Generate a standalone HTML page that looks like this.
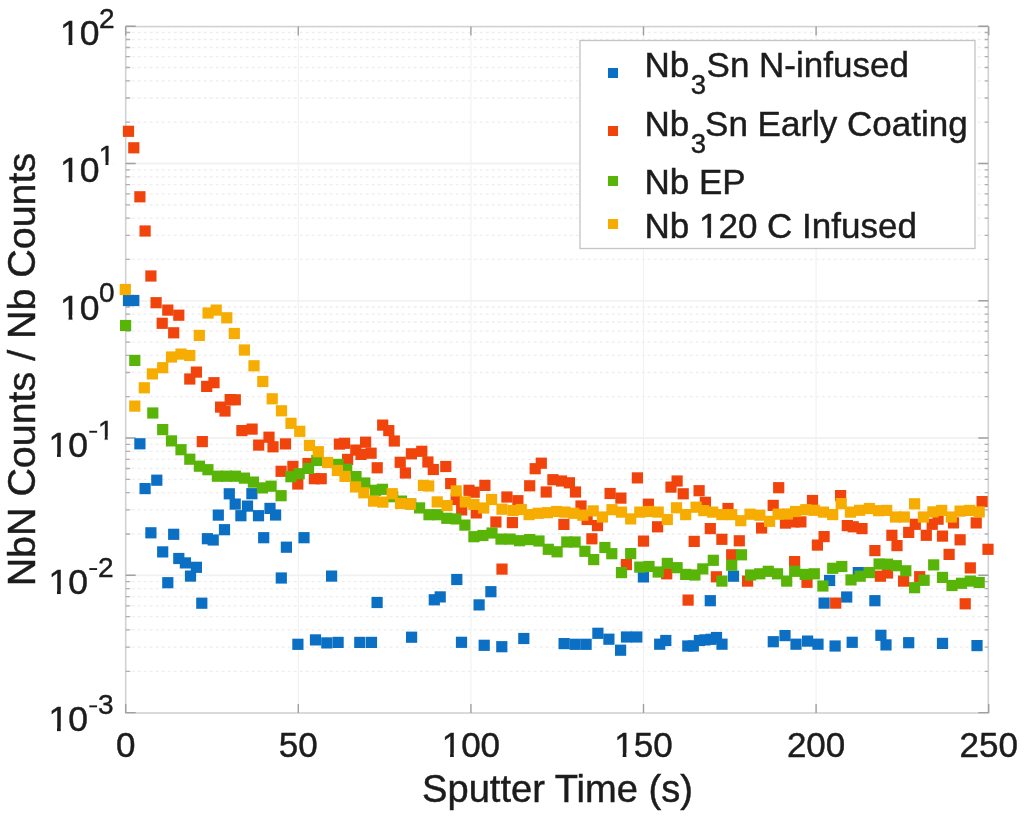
<!DOCTYPE html><html><head><meta charset="utf-8"><style>html,body{margin:0;padding:0;background:#fff;width:1025px;height:818px;overflow:hidden}svg{display:block;font-family:"Liberation Sans",sans-serif;will-change:transform}text{stroke:#1c1c1c;stroke-width:0.45px}</style></head><body>
<svg width="1025" height="818" viewBox="0 0 1025 818">
<rect width="1025" height="818" fill="#fff"/>
<line x1="125.7" y1="671.3" x2="988.3" y2="671.3" stroke="#eeeeee" stroke-width="1.3" stroke-dasharray="3 3"/>
<line x1="125.7" y1="647.1" x2="988.3" y2="647.1" stroke="#eeeeee" stroke-width="1.3" stroke-dasharray="3 3"/>
<line x1="125.7" y1="629.9" x2="988.3" y2="629.9" stroke="#eeeeee" stroke-width="1.3" stroke-dasharray="3 3"/>
<line x1="125.7" y1="616.6" x2="988.3" y2="616.6" stroke="#eeeeee" stroke-width="1.3" stroke-dasharray="3 3"/>
<line x1="125.7" y1="605.8" x2="988.3" y2="605.8" stroke="#eeeeee" stroke-width="1.3" stroke-dasharray="3 3"/>
<line x1="125.7" y1="596.6" x2="988.3" y2="596.6" stroke="#eeeeee" stroke-width="1.3" stroke-dasharray="3 3"/>
<line x1="125.7" y1="588.6" x2="988.3" y2="588.6" stroke="#eeeeee" stroke-width="1.3" stroke-dasharray="3 3"/>
<line x1="125.7" y1="581.6" x2="988.3" y2="581.6" stroke="#eeeeee" stroke-width="1.3" stroke-dasharray="3 3"/>
<line x1="125.7" y1="534.0" x2="988.3" y2="534.0" stroke="#eeeeee" stroke-width="1.3" stroke-dasharray="3 3"/>
<line x1="125.7" y1="509.8" x2="988.3" y2="509.8" stroke="#eeeeee" stroke-width="1.3" stroke-dasharray="3 3"/>
<line x1="125.7" y1="492.7" x2="988.3" y2="492.7" stroke="#eeeeee" stroke-width="1.3" stroke-dasharray="3 3"/>
<line x1="125.7" y1="479.4" x2="988.3" y2="479.4" stroke="#eeeeee" stroke-width="1.3" stroke-dasharray="3 3"/>
<line x1="125.7" y1="468.5" x2="988.3" y2="468.5" stroke="#eeeeee" stroke-width="1.3" stroke-dasharray="3 3"/>
<line x1="125.7" y1="459.3" x2="988.3" y2="459.3" stroke="#eeeeee" stroke-width="1.3" stroke-dasharray="3 3"/>
<line x1="125.7" y1="451.3" x2="988.3" y2="451.3" stroke="#eeeeee" stroke-width="1.3" stroke-dasharray="3 3"/>
<line x1="125.7" y1="444.3" x2="988.3" y2="444.3" stroke="#eeeeee" stroke-width="1.3" stroke-dasharray="3 3"/>
<line x1="125.7" y1="396.7" x2="988.3" y2="396.7" stroke="#eeeeee" stroke-width="1.3" stroke-dasharray="3 3"/>
<line x1="125.7" y1="372.5" x2="988.3" y2="372.5" stroke="#eeeeee" stroke-width="1.3" stroke-dasharray="3 3"/>
<line x1="125.7" y1="355.4" x2="988.3" y2="355.4" stroke="#eeeeee" stroke-width="1.3" stroke-dasharray="3 3"/>
<line x1="125.7" y1="342.1" x2="988.3" y2="342.1" stroke="#eeeeee" stroke-width="1.3" stroke-dasharray="3 3"/>
<line x1="125.7" y1="331.2" x2="988.3" y2="331.2" stroke="#eeeeee" stroke-width="1.3" stroke-dasharray="3 3"/>
<line x1="125.7" y1="322.0" x2="988.3" y2="322.0" stroke="#eeeeee" stroke-width="1.3" stroke-dasharray="3 3"/>
<line x1="125.7" y1="314.1" x2="988.3" y2="314.1" stroke="#eeeeee" stroke-width="1.3" stroke-dasharray="3 3"/>
<line x1="125.7" y1="307.0" x2="988.3" y2="307.0" stroke="#eeeeee" stroke-width="1.3" stroke-dasharray="3 3"/>
<line x1="125.7" y1="259.4" x2="988.3" y2="259.4" stroke="#eeeeee" stroke-width="1.3" stroke-dasharray="3 3"/>
<line x1="125.7" y1="235.3" x2="988.3" y2="235.3" stroke="#eeeeee" stroke-width="1.3" stroke-dasharray="3 3"/>
<line x1="125.7" y1="218.1" x2="988.3" y2="218.1" stroke="#eeeeee" stroke-width="1.3" stroke-dasharray="3 3"/>
<line x1="125.7" y1="204.8" x2="988.3" y2="204.8" stroke="#eeeeee" stroke-width="1.3" stroke-dasharray="3 3"/>
<line x1="125.7" y1="193.9" x2="988.3" y2="193.9" stroke="#eeeeee" stroke-width="1.3" stroke-dasharray="3 3"/>
<line x1="125.7" y1="184.7" x2="988.3" y2="184.7" stroke="#eeeeee" stroke-width="1.3" stroke-dasharray="3 3"/>
<line x1="125.7" y1="176.8" x2="988.3" y2="176.8" stroke="#eeeeee" stroke-width="1.3" stroke-dasharray="3 3"/>
<line x1="125.7" y1="169.8" x2="988.3" y2="169.8" stroke="#eeeeee" stroke-width="1.3" stroke-dasharray="3 3"/>
<line x1="125.7" y1="122.1" x2="988.3" y2="122.1" stroke="#eeeeee" stroke-width="1.3" stroke-dasharray="3 3"/>
<line x1="125.7" y1="98.0" x2="988.3" y2="98.0" stroke="#eeeeee" stroke-width="1.3" stroke-dasharray="3 3"/>
<line x1="125.7" y1="80.8" x2="988.3" y2="80.8" stroke="#eeeeee" stroke-width="1.3" stroke-dasharray="3 3"/>
<line x1="125.7" y1="67.5" x2="988.3" y2="67.5" stroke="#eeeeee" stroke-width="1.3" stroke-dasharray="3 3"/>
<line x1="125.7" y1="56.6" x2="988.3" y2="56.6" stroke="#eeeeee" stroke-width="1.3" stroke-dasharray="3 3"/>
<line x1="125.7" y1="47.5" x2="988.3" y2="47.5" stroke="#eeeeee" stroke-width="1.3" stroke-dasharray="3 3"/>
<line x1="125.7" y1="39.5" x2="988.3" y2="39.5" stroke="#eeeeee" stroke-width="1.3" stroke-dasharray="3 3"/>
<line x1="125.7" y1="32.5" x2="988.3" y2="32.5" stroke="#eeeeee" stroke-width="1.3" stroke-dasharray="3 3"/>
<line x1="125.7" y1="575.3" x2="988.3" y2="575.3" stroke="#f2f2f2" stroke-width="1.8"/>
<line x1="125.7" y1="438.0" x2="988.3" y2="438.0" stroke="#f2f2f2" stroke-width="1.8"/>
<line x1="125.7" y1="300.8" x2="988.3" y2="300.8" stroke="#f2f2f2" stroke-width="1.8"/>
<line x1="125.7" y1="163.5" x2="988.3" y2="163.5" stroke="#f2f2f2" stroke-width="1.8"/>
<line x1="298.3" y1="26.6" x2="298.3" y2="713.0" stroke="#f2f2f2" stroke-width="1.2"/>
<line x1="470.9" y1="26.6" x2="470.9" y2="713.0" stroke="#f2f2f2" stroke-width="1.2"/>
<line x1="643.5" y1="26.6" x2="643.5" y2="713.0" stroke="#f2f2f2" stroke-width="1.2"/>
<line x1="816.1" y1="26.6" x2="816.1" y2="713.0" stroke="#f2f2f2" stroke-width="1.2"/>
<rect x="125.7" y="26.6" width="862.6" height="686.4" fill="none" stroke="#d0d1d4" stroke-width="1.6"/>
<path d="M125.7 713.0v-9M125.7 26.6v9M298.3 713.0v-9M298.3 26.6v9M470.9 713.0v-9M470.9 26.6v9M643.5 713.0v-9M643.5 26.6v9M816.1 713.0v-9M816.1 26.6v9M988.7 713.0v-9M988.7 26.6v9M125.7 712.6h10M988.3 712.6h-10M125.7 575.3h10M988.3 575.3h-10M125.7 438.0h10M988.3 438.0h-10M125.7 300.8h10M988.3 300.8h-10M125.7 163.5h10M988.3 163.5h-10M125.7 26.2h10M988.3 26.2h-10" stroke="#a0a0a0" stroke-width="1.4" fill="none"/>
<path d="M125.7 671.3h4.5M988.3 671.3h-3.5M125.7 647.1h4.5M988.3 647.1h-3.5M125.7 629.9h4.5M988.3 629.9h-3.5M125.7 616.6h4.5M988.3 616.6h-3.5M125.7 605.8h4.5M988.3 605.8h-3.5M125.7 596.6h4.5M988.3 596.6h-3.5M125.7 588.6h4.5M988.3 588.6h-3.5M125.7 581.6h4.5M988.3 581.6h-3.5M125.7 534.0h4.5M988.3 534.0h-3.5M125.7 509.8h4.5M988.3 509.8h-3.5M125.7 492.7h4.5M988.3 492.7h-3.5M125.7 479.4h4.5M988.3 479.4h-3.5M125.7 468.5h4.5M988.3 468.5h-3.5M125.7 459.3h4.5M988.3 459.3h-3.5M125.7 451.3h4.5M988.3 451.3h-3.5M125.7 444.3h4.5M988.3 444.3h-3.5M125.7 396.7h4.5M988.3 396.7h-3.5M125.7 372.5h4.5M988.3 372.5h-3.5M125.7 355.4h4.5M988.3 355.4h-3.5M125.7 342.1h4.5M988.3 342.1h-3.5M125.7 331.2h4.5M988.3 331.2h-3.5M125.7 322.0h4.5M988.3 322.0h-3.5M125.7 314.1h4.5M988.3 314.1h-3.5M125.7 307.0h4.5M988.3 307.0h-3.5M125.7 259.4h4.5M988.3 259.4h-3.5M125.7 235.3h4.5M988.3 235.3h-3.5M125.7 218.1h4.5M988.3 218.1h-3.5M125.7 204.8h4.5M988.3 204.8h-3.5M125.7 193.9h4.5M988.3 193.9h-3.5M125.7 184.7h4.5M988.3 184.7h-3.5M125.7 176.8h4.5M988.3 176.8h-3.5M125.7 169.8h4.5M988.3 169.8h-3.5M125.7 122.1h4.5M988.3 122.1h-3.5M125.7 98.0h4.5M988.3 98.0h-3.5M125.7 80.8h4.5M988.3 80.8h-3.5M125.7 67.5h4.5M988.3 67.5h-3.5M125.7 56.6h4.5M988.3 56.6h-3.5M125.7 47.5h4.5M988.3 47.5h-3.5M125.7 39.5h4.5M988.3 39.5h-3.5M125.7 32.5h4.5M988.3 32.5h-3.5" stroke="#b0b0b0" stroke-width="1.3" fill="none"/>
<g fill="#0b6fc4">
<rect x="122.9" y="294.9" width="11.2" height="11.2"/>
<rect x="128.2" y="294.9" width="11.2" height="11.2"/>
<rect x="134.3" y="438.2" width="11.2" height="11.2"/>
<rect x="139.5" y="483.0" width="11.2" height="11.2"/>
<rect x="145.3" y="527.2" width="11.2" height="11.2"/>
<rect x="151.2" y="474.6" width="11.2" height="11.2"/>
<rect x="157.1" y="546.3" width="11.2" height="11.2"/>
<rect x="162.2" y="577.1" width="11.2" height="11.2"/>
<rect x="168.1" y="528.7" width="11.2" height="11.2"/>
<rect x="173.2" y="552.9" width="11.2" height="11.2"/>
<rect x="179.8" y="557.3" width="11.2" height="11.2"/>
<rect x="184.9" y="570.5" width="11.2" height="11.2"/>
<rect x="190.8" y="561.7" width="11.2" height="11.2"/>
<rect x="196.2" y="597.6" width="11.2" height="11.2"/>
<rect x="201.8" y="533.1" width="11.2" height="11.2"/>
<rect x="207.6" y="534.4" width="11.2" height="11.2"/>
<rect x="212.7" y="509.5" width="11.2" height="11.2"/>
<rect x="218.9" y="524.1" width="11.2" height="11.2"/>
<rect x="223.7" y="488.2" width="11.2" height="11.2"/>
<rect x="229.6" y="498.5" width="11.2" height="11.2"/>
<rect x="235.3" y="510.1" width="11.2" height="11.2"/>
<rect x="241.9" y="500.5" width="11.2" height="11.2"/>
<rect x="246.3" y="488.1" width="11.2" height="11.2"/>
<rect x="252.9" y="510.1" width="11.2" height="11.2"/>
<rect x="258.1" y="532.1" width="11.2" height="11.2"/>
<rect x="264.4" y="502.8" width="11.2" height="11.2"/>
<rect x="270.0" y="509.4" width="11.2" height="11.2"/>
<rect x="275.7" y="572.4" width="11.2" height="11.2"/>
<rect x="280.8" y="541.6" width="11.2" height="11.2"/>
<rect x="292.3" y="638.7" width="11.2" height="11.2"/>
<rect x="298.4" y="532.1" width="11.2" height="11.2"/>
<rect x="309.9" y="634.3" width="11.2" height="11.2"/>
<rect x="321.2" y="637.3" width="11.2" height="11.2"/>
<rect x="326.0" y="570.5" width="11.2" height="11.2"/>
<rect x="332.5" y="636.8" width="11.2" height="11.2"/>
<rect x="354.2" y="636.8" width="11.2" height="11.2"/>
<rect x="365.9" y="636.8" width="11.2" height="11.2"/>
<rect x="371.5" y="596.9" width="11.2" height="11.2"/>
<rect x="406.0" y="631.6" width="11.2" height="11.2"/>
<rect x="428.7" y="594.2" width="11.2" height="11.2"/>
<rect x="434.6" y="591.3" width="11.2" height="11.2"/>
<rect x="451.2" y="573.9" width="11.2" height="11.2"/>
<rect x="455.9" y="636.7" width="11.2" height="11.2"/>
<rect x="473.5" y="599.3" width="11.2" height="11.2"/>
<rect x="478.6" y="639.7" width="11.2" height="11.2"/>
<rect x="485.3" y="586.1" width="11.2" height="11.2"/>
<rect x="496.2" y="641.1" width="11.2" height="11.2"/>
<rect x="518.2" y="632.9" width="11.2" height="11.2"/>
<rect x="558.5" y="638.0" width="11.2" height="11.2"/>
<rect x="569.5" y="638.7" width="11.2" height="11.2"/>
<rect x="580.5" y="638.7" width="11.2" height="11.2"/>
<rect x="592.3" y="627.7" width="11.2" height="11.2"/>
<rect x="603.3" y="633.6" width="11.2" height="11.2"/>
<rect x="615.0" y="644.6" width="11.2" height="11.2"/>
<rect x="620.9" y="631.4" width="11.2" height="11.2"/>
<rect x="631.2" y="631.4" width="11.2" height="11.2"/>
<rect x="637.8" y="571.3" width="11.2" height="11.2"/>
<rect x="654.1" y="638.6" width="11.2" height="11.2"/>
<rect x="660.2" y="634.9" width="11.2" height="11.2"/>
<rect x="682.2" y="640.4" width="11.2" height="11.2"/>
<rect x="687.7" y="640.4" width="11.2" height="11.2"/>
<rect x="693.8" y="634.9" width="11.2" height="11.2"/>
<rect x="699.3" y="634.3" width="11.2" height="11.2"/>
<rect x="704.7" y="595.1" width="11.2" height="11.2"/>
<rect x="705.4" y="633.7" width="11.2" height="11.2"/>
<rect x="710.9" y="631.9" width="11.2" height="11.2"/>
<rect x="716.4" y="638.6" width="11.2" height="11.2"/>
<rect x="727.9" y="570.6" width="11.2" height="11.2"/>
<rect x="767.7" y="636.1" width="11.2" height="11.2"/>
<rect x="779.4" y="630.0" width="11.2" height="11.2"/>
<rect x="790.4" y="638.6" width="11.2" height="11.2"/>
<rect x="802.0" y="635.5" width="11.2" height="11.2"/>
<rect x="812.4" y="638.6" width="11.2" height="11.2"/>
<rect x="818.5" y="597.5" width="11.2" height="11.2"/>
<rect x="824.0" y="574.9" width="11.2" height="11.2"/>
<rect x="829.5" y="640.4" width="11.2" height="11.2"/>
<rect x="841.1" y="591.4" width="11.2" height="11.2"/>
<rect x="846.6" y="636.7" width="11.2" height="11.2"/>
<rect x="852.7" y="567.0" width="11.2" height="11.2"/>
<rect x="869.3" y="595.1" width="11.2" height="11.2"/>
<rect x="875.3" y="629.7" width="11.2" height="11.2"/>
<rect x="880.4" y="639.3" width="11.2" height="11.2"/>
<rect x="903.1" y="637.1" width="11.2" height="11.2"/>
<rect x="936.9" y="637.8" width="11.2" height="11.2"/>
<rect x="971.4" y="640.0" width="11.2" height="11.2"/>
</g>
<g fill="#f0440c">
<rect x="122.9" y="125.7" width="11.2" height="11.2"/>
<rect x="128.2" y="142.2" width="11.2" height="11.2"/>
<rect x="134.3" y="191.2" width="11.2" height="11.2"/>
<rect x="139.5" y="225.4" width="11.2" height="11.2"/>
<rect x="145.3" y="270.4" width="11.2" height="11.2"/>
<rect x="150.5" y="297.1" width="11.2" height="11.2"/>
<rect x="156.6" y="317.7" width="11.2" height="11.2"/>
<rect x="162.2" y="304.5" width="11.2" height="11.2"/>
<rect x="168.1" y="327.2" width="11.2" height="11.2"/>
<rect x="173.2" y="309.6" width="11.2" height="11.2"/>
<rect x="184.2" y="373.4" width="11.2" height="11.2"/>
<rect x="190.8" y="366.5" width="11.2" height="11.2"/>
<rect x="196.7" y="436.0" width="11.2" height="11.2"/>
<rect x="201.1" y="380.8" width="11.2" height="11.2"/>
<rect x="208.4" y="377.1" width="11.2" height="11.2"/>
<rect x="215.0" y="401.5" width="11.2" height="11.2"/>
<rect x="219.4" y="405.4" width="11.2" height="11.2"/>
<rect x="224.6" y="394.0" width="11.2" height="11.2"/>
<rect x="229.7" y="394.2" width="11.2" height="11.2"/>
<rect x="236.3" y="425.0" width="11.2" height="11.2"/>
<rect x="246.5" y="423.5" width="11.2" height="11.2"/>
<rect x="253.1" y="439.5" width="11.2" height="11.2"/>
<rect x="263.4" y="431.6" width="11.2" height="11.2"/>
<rect x="267.4" y="441.2" width="11.2" height="11.2"/>
<rect x="275.5" y="465.7" width="11.2" height="11.2"/>
<rect x="279.9" y="438.3" width="11.2" height="11.2"/>
<rect x="287.3" y="460.8" width="11.2" height="11.2"/>
<rect x="292.2" y="478.4" width="11.2" height="11.2"/>
<rect x="302.4" y="457.9" width="11.2" height="11.2"/>
<rect x="308.8" y="473.1" width="11.2" height="11.2"/>
<rect x="315.6" y="473.1" width="11.2" height="11.2"/>
<rect x="333.8" y="438.5" width="11.2" height="11.2"/>
<rect x="339.0" y="437.7" width="11.2" height="11.2"/>
<rect x="342.0" y="453.8" width="11.2" height="11.2"/>
<rect x="350.2" y="444.5" width="11.2" height="11.2"/>
<rect x="355.4" y="448.8" width="11.2" height="11.2"/>
<rect x="360.0" y="436.6" width="11.2" height="11.2"/>
<rect x="365.5" y="447.6" width="11.2" height="11.2"/>
<rect x="371.6" y="462.2" width="11.2" height="11.2"/>
<rect x="377.1" y="419.5" width="11.2" height="11.2"/>
<rect x="383.2" y="425.0" width="11.2" height="11.2"/>
<rect x="388.7" y="435.4" width="11.2" height="11.2"/>
<rect x="394.6" y="456.7" width="11.2" height="11.2"/>
<rect x="399.8" y="467.4" width="11.2" height="11.2"/>
<rect x="405.8" y="448.2" width="11.2" height="11.2"/>
<rect x="416.2" y="445.7" width="11.2" height="11.2"/>
<rect x="422.3" y="456.4" width="11.2" height="11.2"/>
<rect x="427.7" y="463.9" width="11.2" height="11.2"/>
<rect x="440.2" y="460.9" width="11.2" height="11.2"/>
<rect x="445.1" y="478.0" width="11.2" height="11.2"/>
<rect x="450.6" y="493.9" width="11.2" height="11.2"/>
<rect x="456.1" y="504.3" width="11.2" height="11.2"/>
<rect x="463.4" y="484.7" width="11.2" height="11.2"/>
<rect x="468.6" y="486.6" width="11.2" height="11.2"/>
<rect x="470.7" y="507.3" width="11.2" height="11.2"/>
<rect x="479.3" y="479.8" width="11.2" height="11.2"/>
<rect x="490.3" y="516.4" width="11.2" height="11.2"/>
<rect x="496.4" y="563.5" width="11.2" height="11.2"/>
<rect x="501.3" y="491.4" width="11.2" height="11.2"/>
<rect x="506.8" y="517.0" width="11.2" height="11.2"/>
<rect x="512.3" y="495.1" width="11.2" height="11.2"/>
<rect x="524.1" y="480.2" width="11.2" height="11.2"/>
<rect x="529.6" y="463.1" width="11.2" height="11.2"/>
<rect x="535.7" y="457.6" width="11.2" height="11.2"/>
<rect x="540.6" y="486.4" width="11.2" height="11.2"/>
<rect x="547.3" y="474.1" width="11.2" height="11.2"/>
<rect x="555.9" y="475.4" width="11.2" height="11.2"/>
<rect x="558.3" y="518.8" width="11.2" height="11.2"/>
<rect x="563.8" y="477.2" width="11.2" height="11.2"/>
<rect x="569.9" y="486.4" width="11.2" height="11.2"/>
<rect x="575.4" y="500.4" width="11.2" height="11.2"/>
<rect x="581.5" y="513.9" width="11.2" height="11.2"/>
<rect x="586.3" y="533.2" width="11.2" height="11.2"/>
<rect x="591.9" y="520.0" width="11.2" height="11.2"/>
<rect x="604.5" y="487.9" width="11.2" height="11.2"/>
<rect x="615.3" y="492.5" width="11.2" height="11.2"/>
<rect x="620.8" y="559.0" width="11.2" height="11.2"/>
<rect x="631.8" y="472.3" width="11.2" height="11.2"/>
<rect x="637.9" y="535.5" width="11.2" height="11.2"/>
<rect x="642.8" y="498.6" width="11.2" height="11.2"/>
<rect x="652.0" y="521.2" width="11.2" height="11.2"/>
<rect x="661.1" y="568.2" width="11.2" height="11.2"/>
<rect x="665.4" y="481.5" width="11.2" height="11.2"/>
<rect x="671.5" y="475.4" width="11.2" height="11.2"/>
<rect x="677.6" y="488.2" width="11.2" height="11.2"/>
<rect x="682.5" y="594.5" width="11.2" height="11.2"/>
<rect x="688.6" y="535.8" width="11.2" height="11.2"/>
<rect x="693.5" y="485.1" width="11.2" height="11.2"/>
<rect x="699.8" y="496.7" width="11.2" height="11.2"/>
<rect x="704.7" y="523.0" width="11.2" height="11.2"/>
<rect x="710.8" y="571.2" width="11.2" height="11.2"/>
<rect x="716.3" y="533.7" width="11.2" height="11.2"/>
<rect x="722.4" y="502.9" width="11.2" height="11.2"/>
<rect x="726.1" y="549.2" width="11.2" height="11.2"/>
<rect x="733.7" y="535.2" width="11.2" height="11.2"/>
<rect x="742.0" y="575.5" width="11.2" height="11.2"/>
<rect x="756.0" y="522.4" width="11.2" height="11.2"/>
<rect x="767.6" y="499.8" width="11.2" height="11.2"/>
<rect x="773.1" y="482.1" width="11.2" height="11.2"/>
<rect x="779.9" y="517.5" width="11.2" height="11.2"/>
<rect x="788.4" y="516.3" width="11.2" height="11.2"/>
<rect x="789.0" y="556.0" width="11.2" height="11.2"/>
<rect x="795.3" y="516.3" width="11.2" height="11.2"/>
<rect x="801.4" y="576.7" width="11.2" height="11.2"/>
<rect x="806.9" y="494.9" width="11.2" height="11.2"/>
<rect x="811.8" y="539.5" width="11.2" height="11.2"/>
<rect x="818.5" y="531.0" width="11.2" height="11.2"/>
<rect x="830.1" y="597.5" width="11.2" height="11.2"/>
<rect x="835.0" y="490.0" width="11.2" height="11.2"/>
<rect x="841.7" y="520.0" width="11.2" height="11.2"/>
<rect x="847.6" y="521.2" width="11.2" height="11.2"/>
<rect x="856.4" y="523.0" width="11.2" height="11.2"/>
<rect x="869.3" y="545.0" width="11.2" height="11.2"/>
<rect x="874.8" y="570.6" width="11.2" height="11.2"/>
<rect x="881.9" y="567.4" width="11.2" height="11.2"/>
<rect x="886.3" y="529.7" width="11.2" height="11.2"/>
<rect x="891.4" y="540.0" width="11.2" height="11.2"/>
<rect x="898.0" y="575.5" width="11.2" height="11.2"/>
<rect x="903.1" y="526.8" width="11.2" height="11.2"/>
<rect x="909.7" y="518.7" width="11.2" height="11.2"/>
<rect x="914.1" y="571.1" width="11.2" height="11.2"/>
<rect x="920.7" y="529.7" width="11.2" height="11.2"/>
<rect x="926.6" y="518.7" width="11.2" height="11.2"/>
<rect x="932.5" y="513.6" width="11.2" height="11.2"/>
<rect x="936.9" y="530.5" width="11.2" height="11.2"/>
<rect x="943.5" y="548.8" width="11.2" height="11.2"/>
<rect x="947.9" y="517.3" width="11.2" height="11.2"/>
<rect x="954.5" y="534.2" width="11.2" height="11.2"/>
<rect x="959.6" y="598.2" width="11.2" height="11.2"/>
<rect x="964.7" y="562.3" width="11.2" height="11.2"/>
<rect x="970.6" y="517.3" width="11.2" height="11.2"/>
<rect x="976.5" y="496.0" width="11.2" height="11.2"/>
<rect x="982.4" y="543.7" width="11.2" height="11.2"/>
</g>
<g fill="#58b508">
<rect x="120.0" y="319.9" width="11.2" height="11.2"/>
<rect x="129.2" y="354.8" width="11.2" height="11.2"/>
<rect x="147.2" y="407.4" width="11.2" height="11.2"/>
<rect x="157.1" y="424.0" width="11.2" height="11.2"/>
<rect x="165.9" y="435.3" width="11.2" height="11.2"/>
<rect x="175.4" y="444.1" width="11.2" height="11.2"/>
<rect x="184.2" y="453.6" width="11.2" height="11.2"/>
<rect x="193.8" y="460.6" width="11.2" height="11.2"/>
<rect x="202.3" y="464.1" width="11.2" height="11.2"/>
<rect x="211.8" y="470.6" width="11.2" height="11.2"/>
<rect x="220.8" y="470.6" width="11.2" height="11.2"/>
<rect x="229.8" y="470.6" width="11.2" height="11.2"/>
<rect x="238.8" y="472.5" width="11.2" height="11.2"/>
<rect x="247.8" y="476.5" width="11.2" height="11.2"/>
<rect x="256.8" y="482.3" width="11.2" height="11.2"/>
<rect x="265.5" y="480.6" width="11.2" height="11.2"/>
<rect x="275.5" y="490.1" width="11.2" height="11.2"/>
<rect x="285.3" y="471.1" width="11.2" height="11.2"/>
<rect x="293.6" y="468.1" width="11.2" height="11.2"/>
<rect x="302.9" y="462.8" width="11.2" height="11.2"/>
<rect x="311.2" y="454.9" width="11.2" height="11.2"/>
<rect x="332.5" y="458.8" width="11.2" height="11.2"/>
<rect x="341.1" y="463.7" width="11.2" height="11.2"/>
<rect x="350.4" y="471.0" width="11.2" height="11.2"/>
<rect x="359.2" y="477.4" width="11.2" height="11.2"/>
<rect x="370.0" y="484.7" width="11.2" height="11.2"/>
<rect x="376.8" y="483.7" width="11.2" height="11.2"/>
<rect x="387.1" y="491.1" width="11.2" height="11.2"/>
<rect x="395.9" y="495.5" width="11.2" height="11.2"/>
<rect x="405.2" y="498.4" width="11.2" height="11.2"/>
<rect x="414.0" y="502.3" width="11.2" height="11.2"/>
<rect x="423.4" y="509.1" width="11.2" height="11.2"/>
<rect x="432.1" y="509.1" width="11.2" height="11.2"/>
<rect x="441.2" y="512.7" width="11.2" height="11.2"/>
<rect x="450.2" y="513.3" width="11.2" height="11.2"/>
<rect x="459.3" y="519.5" width="11.2" height="11.2"/>
<rect x="468.3" y="531.1" width="11.2" height="11.2"/>
<rect x="477.3" y="529.9" width="11.2" height="11.2"/>
<rect x="486.4" y="527.4" width="11.2" height="11.2"/>
<rect x="495.4" y="533.5" width="11.2" height="11.2"/>
<rect x="504.5" y="533.5" width="11.2" height="11.2"/>
<rect x="513.9" y="535.1" width="11.2" height="11.2"/>
<rect x="524.1" y="534.0" width="11.2" height="11.2"/>
<rect x="533.4" y="535.4" width="11.2" height="11.2"/>
<rect x="542.7" y="543.7" width="11.2" height="11.2"/>
<rect x="551.5" y="546.2" width="11.2" height="11.2"/>
<rect x="561.2" y="536.4" width="11.2" height="11.2"/>
<rect x="569.5" y="536.4" width="11.2" height="11.2"/>
<rect x="579.3" y="545.7" width="11.2" height="11.2"/>
<rect x="588.1" y="554.0" width="11.2" height="11.2"/>
<rect x="599.3" y="541.9" width="11.2" height="11.2"/>
<rect x="606.2" y="548.1" width="11.2" height="11.2"/>
<rect x="615.9" y="567.0" width="11.2" height="11.2"/>
<rect x="625.1" y="548.0" width="11.2" height="11.2"/>
<rect x="634.2" y="561.5" width="11.2" height="11.2"/>
<rect x="643.4" y="560.9" width="11.2" height="11.2"/>
<rect x="652.6" y="566.4" width="11.2" height="11.2"/>
<rect x="661.7" y="557.8" width="11.2" height="11.2"/>
<rect x="671.5" y="562.1" width="11.2" height="11.2"/>
<rect x="680.1" y="568.8" width="11.2" height="11.2"/>
<rect x="689.3" y="569.4" width="11.2" height="11.2"/>
<rect x="697.2" y="563.3" width="11.2" height="11.2"/>
<rect x="707.7" y="554.7" width="11.2" height="11.2"/>
<rect x="716.3" y="575.5" width="11.2" height="11.2"/>
<rect x="726.1" y="559.6" width="11.2" height="11.2"/>
<rect x="735.9" y="549.2" width="11.2" height="11.2"/>
<rect x="745.0" y="569.4" width="11.2" height="11.2"/>
<rect x="754.2" y="568.2" width="11.2" height="11.2"/>
<rect x="762.7" y="565.7" width="11.2" height="11.2"/>
<rect x="771.9" y="568.2" width="11.2" height="11.2"/>
<rect x="781.1" y="575.5" width="11.2" height="11.2"/>
<rect x="789.1" y="565.7" width="11.2" height="11.2"/>
<rect x="799.6" y="568.8" width="11.2" height="11.2"/>
<rect x="808.7" y="568.2" width="11.2" height="11.2"/>
<rect x="817.3" y="580.4" width="11.2" height="11.2"/>
<rect x="827.1" y="562.7" width="11.2" height="11.2"/>
<rect x="836.2" y="560.9" width="11.2" height="11.2"/>
<rect x="845.4" y="574.3" width="11.2" height="11.2"/>
<rect x="854.6" y="570.6" width="11.2" height="11.2"/>
<rect x="863.8" y="567.0" width="11.2" height="11.2"/>
<rect x="873.5" y="558.4" width="11.2" height="11.2"/>
<rect x="881.9" y="558.6" width="11.2" height="11.2"/>
<rect x="890.7" y="560.1" width="11.2" height="11.2"/>
<rect x="900.2" y="565.2" width="11.2" height="11.2"/>
<rect x="909.0" y="582.1" width="11.2" height="11.2"/>
<rect x="918.5" y="574.7" width="11.2" height="11.2"/>
<rect x="928.1" y="559.3" width="11.2" height="11.2"/>
<rect x="936.9" y="571.8" width="11.2" height="11.2"/>
<rect x="946.4" y="579.9" width="11.2" height="11.2"/>
<rect x="955.9" y="577.7" width="11.2" height="11.2"/>
<rect x="964.7" y="575.5" width="11.2" height="11.2"/>
<rect x="973.6" y="576.9" width="11.2" height="11.2"/>
</g>
<g fill="#f6ac00">
<rect x="119.7" y="283.9" width="11.2" height="11.2"/>
<rect x="129.2" y="400.5" width="11.2" height="11.2"/>
<rect x="138.7" y="382.2" width="11.2" height="11.2"/>
<rect x="146.8" y="368.3" width="11.2" height="11.2"/>
<rect x="157.1" y="362.1" width="11.2" height="11.2"/>
<rect x="165.9" y="351.4" width="11.2" height="11.2"/>
<rect x="175.4" y="348.5" width="11.2" height="11.2"/>
<rect x="184.2" y="349.9" width="11.2" height="11.2"/>
<rect x="193.7" y="329.8" width="11.2" height="11.2"/>
<rect x="202.5" y="307.4" width="11.2" height="11.2"/>
<rect x="210.6" y="304.5" width="11.2" height="11.2"/>
<rect x="221.2" y="312.2" width="11.2" height="11.2"/>
<rect x="228.7" y="327.9" width="11.2" height="11.2"/>
<rect x="238.8" y="344.4" width="11.2" height="11.2"/>
<rect x="248.4" y="360.2" width="11.2" height="11.2"/>
<rect x="257.2" y="375.9" width="11.2" height="11.2"/>
<rect x="266.6" y="393.2" width="11.2" height="11.2"/>
<rect x="275.9" y="405.2" width="11.2" height="11.2"/>
<rect x="285.4" y="417.7" width="11.2" height="11.2"/>
<rect x="294.2" y="425.7" width="11.2" height="11.2"/>
<rect x="303.9" y="439.8" width="11.2" height="11.2"/>
<rect x="312.7" y="446.1" width="11.2" height="11.2"/>
<rect x="322.0" y="456.9" width="11.2" height="11.2"/>
<rect x="331.8" y="464.9" width="11.2" height="11.2"/>
<rect x="339.4" y="470.8" width="11.2" height="11.2"/>
<rect x="349.9" y="481.3" width="11.2" height="11.2"/>
<rect x="358.3" y="487.2" width="11.2" height="11.2"/>
<rect x="368.0" y="495.5" width="11.2" height="11.2"/>
<rect x="377.3" y="496.5" width="11.2" height="11.2"/>
<rect x="386.6" y="488.1" width="11.2" height="11.2"/>
<rect x="394.9" y="497.9" width="11.2" height="11.2"/>
<rect x="404.7" y="498.4" width="11.2" height="11.2"/>
<rect x="417.9" y="479.8" width="11.2" height="11.2"/>
<rect x="423.1" y="480.4" width="11.2" height="11.2"/>
<rect x="431.6" y="496.3" width="11.2" height="11.2"/>
<rect x="441.4" y="500.0" width="11.2" height="11.2"/>
<rect x="450.6" y="485.3" width="11.2" height="11.2"/>
<rect x="459.7" y="496.3" width="11.2" height="11.2"/>
<rect x="468.3" y="498.8" width="11.2" height="11.2"/>
<rect x="478.1" y="502.4" width="11.2" height="11.2"/>
<rect x="486.0" y="493.9" width="11.2" height="11.2"/>
<rect x="496.4" y="503.6" width="11.2" height="11.2"/>
<rect x="507.4" y="504.9" width="11.2" height="11.2"/>
<rect x="515.7" y="503.9" width="11.2" height="11.2"/>
<rect x="523.5" y="509.0" width="11.2" height="11.2"/>
<rect x="532.6" y="507.7" width="11.2" height="11.2"/>
<rect x="541.8" y="507.1" width="11.2" height="11.2"/>
<rect x="551.0" y="505.9" width="11.2" height="11.2"/>
<rect x="559.5" y="506.5" width="11.2" height="11.2"/>
<rect x="568.1" y="507.7" width="11.2" height="11.2"/>
<rect x="577.2" y="509.6" width="11.2" height="11.2"/>
<rect x="587.6" y="505.3" width="11.2" height="11.2"/>
<rect x="596.8" y="511.4" width="11.2" height="11.2"/>
<rect x="606.4" y="504.1" width="11.2" height="11.2"/>
<rect x="615.9" y="506.5" width="11.2" height="11.2"/>
<rect x="625.1" y="513.3" width="11.2" height="11.2"/>
<rect x="634.2" y="506.5" width="11.2" height="11.2"/>
<rect x="643.4" y="505.9" width="11.2" height="11.2"/>
<rect x="652.6" y="506.5" width="11.2" height="11.2"/>
<rect x="661.7" y="513.9" width="11.2" height="11.2"/>
<rect x="670.9" y="502.2" width="11.2" height="11.2"/>
<rect x="680.1" y="509.0" width="11.2" height="11.2"/>
<rect x="690.5" y="501.6" width="11.2" height="11.2"/>
<rect x="698.2" y="505.0" width="11.2" height="11.2"/>
<rect x="707.1" y="506.5" width="11.2" height="11.2"/>
<rect x="716.3" y="509.0" width="11.2" height="11.2"/>
<rect x="726.1" y="509.0" width="11.2" height="11.2"/>
<rect x="735.2" y="515.1" width="11.2" height="11.2"/>
<rect x="744.4" y="508.6" width="11.2" height="11.2"/>
<rect x="754.2" y="509.6" width="11.2" height="11.2"/>
<rect x="764.0" y="515.7" width="11.2" height="11.2"/>
<rect x="772.5" y="508.6" width="11.2" height="11.2"/>
<rect x="781.8" y="508.4" width="11.2" height="11.2"/>
<rect x="790.0" y="505.9" width="11.2" height="11.2"/>
<rect x="800.2" y="504.1" width="11.2" height="11.2"/>
<rect x="808.7" y="504.7" width="11.2" height="11.2"/>
<rect x="817.9" y="506.5" width="11.2" height="11.2"/>
<rect x="827.1" y="509.0" width="11.2" height="11.2"/>
<rect x="835.6" y="498.0" width="11.2" height="11.2"/>
<rect x="844.8" y="506.5" width="11.2" height="11.2"/>
<rect x="854.0" y="504.7" width="11.2" height="11.2"/>
<rect x="863.8" y="502.9" width="11.2" height="11.2"/>
<rect x="872.9" y="505.1" width="11.2" height="11.2"/>
<rect x="881.1" y="504.8" width="11.2" height="11.2"/>
<rect x="889.9" y="511.4" width="11.2" height="11.2"/>
<rect x="898.7" y="511.4" width="11.2" height="11.2"/>
<rect x="909.0" y="498.2" width="11.2" height="11.2"/>
<rect x="917.8" y="511.4" width="11.2" height="11.2"/>
<rect x="927.3" y="506.3" width="11.2" height="11.2"/>
<rect x="936.1" y="504.8" width="11.2" height="11.2"/>
<rect x="945.7" y="511.4" width="11.2" height="11.2"/>
<rect x="954.5" y="505.5" width="11.2" height="11.2"/>
<rect x="964.0" y="504.8" width="11.2" height="11.2"/>
<rect x="973.6" y="506.3" width="11.2" height="11.2"/>
</g>
<text x="125.7" y="757" font-size="35" text-anchor="middle" fill="#1c1c1c">0</text>
<text x="298.3" y="757" font-size="35" text-anchor="middle" fill="#1c1c1c">50</text>
<text x="470.9" y="757" font-size="35" text-anchor="middle" fill="#1c1c1c">100</text>
<rect x="443.11" y="752.98" width="6.97" height="6.53" fill="#fff"/>
<rect x="453.78" y="752.98" width="6.65" height="6.53" fill="#fff"/>
<rect x="450.07" y="757.10" width="3.71" height="2.4" fill="#fff"/>
<text x="643.5" y="757" font-size="35" text-anchor="middle" fill="#1c1c1c">150</text>
<rect x="615.71" y="752.98" width="6.97" height="6.53" fill="#fff"/>
<rect x="626.38" y="752.98" width="6.65" height="6.53" fill="#fff"/>
<rect x="622.67" y="757.10" width="3.71" height="2.4" fill="#fff"/>
<text x="816.1" y="757" font-size="35" text-anchor="middle" fill="#1c1c1c">200</text>
<text x="988.7" y="757" font-size="35" text-anchor="middle" fill="#1c1c1c">250</text>
<text x="88" y="731.4" font-size="35.5" text-anchor="end" fill="#1c1c1c">10</text>
<rect x="49.94" y="727.31" width="7.06" height="6.58" fill="#fff"/>
<rect x="60.77" y="727.31" width="6.75" height="6.58" fill="#fff"/>
<rect x="57.01" y="731.49" width="3.76" height="2.4" fill="#fff"/>
<rect x="89.3" y="705.4" width="7.8" height="1.9" fill="#1c1c1c"/>
<text x="98" y="714.1" font-size="28" fill="#1c1c1c">3</text>
<text x="88" y="594.1" font-size="35.5" text-anchor="end" fill="#1c1c1c">10</text>
<rect x="49.94" y="590.03" width="7.06" height="6.58" fill="#fff"/>
<rect x="60.77" y="590.03" width="6.75" height="6.58" fill="#fff"/>
<rect x="57.01" y="594.21" width="3.76" height="2.4" fill="#fff"/>
<rect x="89.3" y="568.1" width="7.8" height="1.9" fill="#1c1c1c"/>
<text x="98" y="576.8" font-size="28" fill="#1c1c1c">2</text>
<text x="88" y="456.8" font-size="35.5" text-anchor="end" fill="#1c1c1c">10</text>
<rect x="49.94" y="452.75" width="7.06" height="6.58" fill="#fff"/>
<rect x="60.77" y="452.75" width="6.75" height="6.58" fill="#fff"/>
<rect x="57.01" y="456.93" width="3.76" height="2.4" fill="#fff"/>
<rect x="89.3" y="430.8" width="7.8" height="1.9" fill="#1c1c1c"/>
<text x="98" y="439.5" font-size="28" fill="#1c1c1c">1</text>
<rect x="99.12" y="436.31" width="5.57" height="5.72" fill="#fff"/>
<rect x="107.66" y="436.31" width="5.32" height="5.72" fill="#fff"/>
<rect x="104.69" y="439.63" width="2.97" height="2.4" fill="#fff"/>
<text x="99.6" y="319.6" font-size="35.5" text-anchor="end" fill="#1c1c1c">10</text>
<rect x="61.54" y="315.47" width="7.06" height="6.58" fill="#fff"/>
<rect x="72.37" y="315.47" width="6.75" height="6.58" fill="#fff"/>
<rect x="68.61" y="319.65" width="3.76" height="2.4" fill="#fff"/>
<text x="99" y="302.2" font-size="28" fill="#1c1c1c">0</text>
<text x="99.6" y="182.3" font-size="35.5" text-anchor="end" fill="#1c1c1c">10</text>
<rect x="61.54" y="178.19" width="7.06" height="6.58" fill="#fff"/>
<rect x="72.37" y="178.19" width="6.75" height="6.58" fill="#fff"/>
<rect x="68.61" y="182.37" width="3.76" height="2.4" fill="#fff"/>
<text x="98.8" y="165.0" font-size="28" fill="#1c1c1c">1</text>
<rect x="99.92" y="161.75" width="5.57" height="5.72" fill="#fff"/>
<rect x="108.46" y="161.75" width="5.32" height="5.72" fill="#fff"/>
<rect x="105.49" y="165.07" width="2.97" height="2.4" fill="#fff"/>
<text x="99.6" y="45.0" font-size="35.5" text-anchor="end" fill="#1c1c1c">10</text>
<rect x="61.54" y="40.91" width="7.06" height="6.58" fill="#fff"/>
<rect x="72.37" y="40.91" width="6.75" height="6.58" fill="#fff"/>
<rect x="68.61" y="45.09" width="3.76" height="2.4" fill="#fff"/>
<text x="99" y="27.7" font-size="28" fill="#1c1c1c">2</text>
<text x="557.5" y="802.4" font-size="38.1" text-anchor="middle" fill="#1c1c1c">Sputter Time (s)</text>
<text transform="translate(34.8 369.6) rotate(-90)" x="0" y="0" font-size="39.4" text-anchor="middle" fill="#1c1c1c">NbN Counts / Nb Counts</text>
<rect x="580" y="40.5" width="395" height="208" fill="#fff" stroke="#c4c4c4" stroke-width="1.3"/>
<rect x="608" y="68" width="10" height="10" fill="#0b6fc4"/>
<text x="644.5" y="77.4" font-size="35" fill="#1c1c1c">Nb<tspan font-size="27.5" dy="16.6" dx="1.5">3</tspan><tspan dy="-16.6" font-size="35" dx="0.5">Sn N-infused</tspan></text>
<rect x="608" y="126" width="10" height="10" fill="#f0440c"/>
<text x="644.5" y="135.9" font-size="35" fill="#1c1c1c">Nb<tspan font-size="27.5" dy="16.6" dx="1.5">3</tspan><tspan dy="-16.6" font-size="35" dx="-1">Sn Early Coating</tspan></text>
<rect x="608" y="176" width="10" height="10" fill="#58b508"/>
<text x="644.5" y="194.4" font-size="35" fill="#1c1c1c">Nb EP</text>
<rect x="608" y="219" width="10" height="10" fill="#f6ac00"/>
<text x="644.5" y="237.7" font-size="35" fill="#1c1c1c">Nb 120 C Infused</text>
<rect x="700.36" y="233.67" width="6.97" height="6.53" fill="#fff"/>
<rect x="711.04" y="233.67" width="6.65" height="6.53" fill="#fff"/>
<rect x="707.33" y="237.80" width="3.71" height="2.4" fill="#fff"/>
</svg></body></html>
